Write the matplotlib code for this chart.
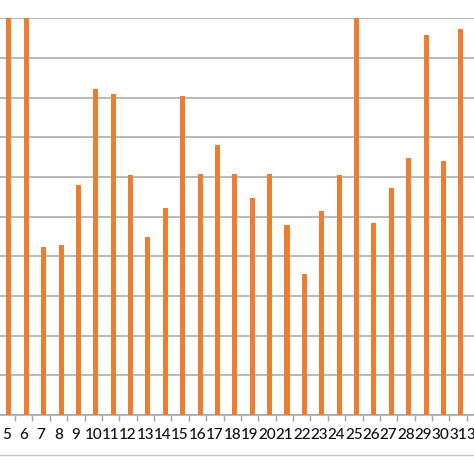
import matplotlib
matplotlib.use("Agg")
import matplotlib.pyplot as plt
from matplotlib.lines import Line2D

categories = list(range(5, 33))
values = [10.0, 10.0, 4.24, 4.28, 5.79, 8.21, 8.10, 6.05, 4.48, 5.21,
          8.04, 6.07, 6.80, 6.07, 5.48, 6.07, 4.79, 3.55, 5.14, 6.04,
          10.0, 4.84, 5.71, 6.48, 9.59, 6.41, 9.72, 0.0]
tick_labels = [str(c) for c in categories]

bar_color = "#ED7D31"
grid_color = "#A6A6A6"

fig = plt.figure(figsize=(4.74, 4.74), dpi=100)
W, H = 474, 474
spacing = 17.38
first_label_px = 6.3
x_left = categories[0] - first_label_px / spacing
x_right = x_left + W / spacing
axis_px = 415
top_px = 18.3

ax = fig.add_axes([0, (H - axis_px) / H, 1, (axis_px - top_px) / H])

ax.bar([c + 0.15 for c in categories], values, width=0.29, color=bar_color,
       zorder=3, clip_on=True)

ax.set_yticks(range(0, 11))
ax.yaxis.grid(True, color=grid_color, linewidth=1.1, zorder=0)
ax.tick_params(axis="y", left=False, labelleft=False)
for s in ["left", "right", "top"]:
    ax.spines[s].set_visible(False)
ax.spines["bottom"].set_color(grid_color)
ax.spines["bottom"].set_linewidth(1.1)

font_kw = dict(fontfamily="Lato", fontsize=11, fontweight="medium", color="#111111")
ax.set_xticks(categories)
ax.set_xticklabels(tick_labels, **font_kw)
ax.tick_params(axis="x", which="major", length=0, pad=9.5)
ax.set_xticks([c + 0.5 for c in categories] + [categories[0] - 0.5], minor=True)
ax.tick_params(axis="x", which="minor", length=4, width=1, color=grid_color)

ax.set_xlim(x_left, x_right)
ax.set_ylim(0, 10)

# labels of categories whose tick lies just past the visible range (partially cut)
for c, lab in zip(categories, tick_labels):
    if c > x_right:
        ax.annotate(lab, xy=(c, 0), xycoords=("data", "axes fraction"),
                    xytext=(0, -9.5), textcoords="offset points",
                    ha="center", va="top", annotation_clip=False, **font_kw)

fig.add_artist(Line2D([0, 1], [(H - 455) / H, (H - 455) / H],
                      transform=fig.transFigure, color="#C8C8C8", linewidth=1.0))

fig.savefig("out.png", dpi=100, facecolor="white")
